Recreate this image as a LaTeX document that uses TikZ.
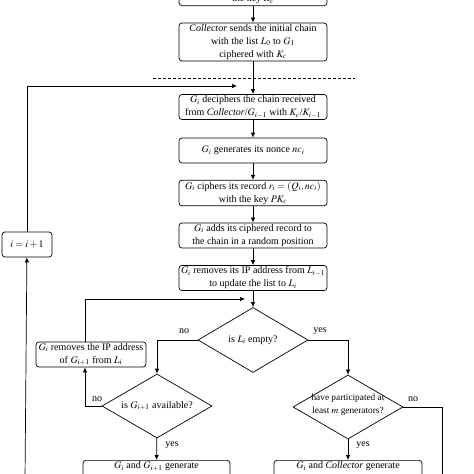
\documentclass[tikz,border=0pt]{standalone}
\usepackage{mathptmx}
\usepackage{fontspec}
\setmainfont{Liberation Serif}
\usetikzlibrary{shapes.geometric,arrows.meta}
\begin{document}
\begin{tikzpicture}[x=1pt,y=-1pt,line width=0.7pt,
  box/.style={draw, rounded corners=3pt, align=center, minimum width=148pt,
    minimum height=25pt, inner xsep=1pt, inner ysep=1.5pt, font=\fontsize{10}{13}\selectfont},
  decision/.style={draw, diamond, minimum width=110pt, minimum height=65pt,
    inner sep=0pt, font=\fontsize{10}{13}\selectfont},
  arr/.style={-{Latex[length=5pt,width=4.5pt]}},
  lbl/.style={font=\fontsize{10}{12}\selectfont, inner sep=0pt}]
\useasboundingbox (0,0) rectangle (474,474);
\clip (0,0) rectangle (474,474);
% main column
\node[box, anchor=south, minimum height=0pt] (key) at (253,6) {the key $K_c$};
\node[box, minimum height=38pt] (init) at (253,42) {\textit{Collector} sends the initial chain\\ with the list $L_0$ to $G_1$\\ ciphered with $K_c$};
\node[box] (decipher) at (253,107) {$G_i$ deciphers the chain received\\ from \textit{Collector}/$G_{i-1}$ with $K_c$/$K_{i-1}$};
\node[box] (nonce) at (253,150.5) {$G_i$ generates its nonce $nc_i$};
\node[box] (cipher) at (253,193) {$G_i$ ciphers its record $r_i = (Q_i, nc_i)$\\ with the key $PK_c$};
\node[box] (adds) at (253,235.5) {$G_i$ adds its ciphered record to\\ the chain in a random position};
\node[box] (removes) at (253,278) {$G_i$ removes its IP address from $L_{i-1}$\\ to update the list to $L_i$};
% decisions
\node[decision] (empty) at (253,340) {\makebox[0pt]{is $L_i$ empty?}};
\node[decision, minimum height=64pt] (avail) at (157,406) {\makebox[0pt]{is $G_{i+1}$ available?}};
\node[decision, minimum height=64pt, font=\fontsize{9.3}{13}\selectfont] (least) at (348,407) {\smash{\makebox[0pt]{\begin{tabular}{@{}c@{}}have participated at\\ least $m$ generators?\end{tabular}}}};
% side boxes
\node[box, minimum width=110pt, minimum height=24pt] (rmip) at (91,354.5) {$G_i$ removes the IP address\\ of $G_{i+1}$ from $L_i$};
\node[box, minimum width=50pt] (incr) at (27,244.5) {$i = i + 1$};
\node[box, anchor=north, minimum height=0pt, minimum width=147pt, text depth=20pt] (genl) at (156.5,460) {$G_i$ and $G_{i+1}$ generate};
\node[box, anchor=north, minimum height=0pt, text depth=20pt] (genr) at (348,460) {$G_i$ and \textit{Collector} generate};
% free ends
\coordinate (merge1) at (237,86);
\coordinate (merge2) at (245,299);
\coordinate (loopin) at (25,480);
\coordinate (loopout) at (442,480);
% connectors
\draw[arr] (key) -- (init);
\draw[arr] (init) -- (decipher);
\draw[dash pattern=on 3pt off 2pt, line width=0.6pt] (153,78) -- (355,78);
\draw[arr] (decipher) -- (nonce);
\draw[arr] (nonce) -- (cipher);
\draw[arr] (cipher) -- (adds);
\draw[arr] (adds) -- (removes);
\draw[arr] (removes) -- (empty);
\draw[arr] (empty.west) -| (avail.north);
\draw[arr] (empty.east) -| (least.north);
\draw[arr] (avail.west) -| ([xshift=-6pt]rmip.south);
\draw[arr] ([xshift=-6pt]rmip.north) |- (merge2);
\draw[arr] (avail) -- (genl);
\draw[arr] (least) -- (genr);
\draw (least.east) -| (loopout);
\draw[arr] (loopin) -- (incr);
\draw[arr] (incr.north) |- (merge1);
% labels
\node[lbl] (noa) at (184,331) {no};
\node[lbl] (yesa) at (320,331) {yes};
\node[lbl] (nob) at (97,399) {no};
\node[lbl] (yesb) at (172,445) {yes};
\node[lbl] (noc) at (413,399) {no};
\node[lbl] (yesc) at (363,445) {yes};
\end{tikzpicture}
\end{document}
